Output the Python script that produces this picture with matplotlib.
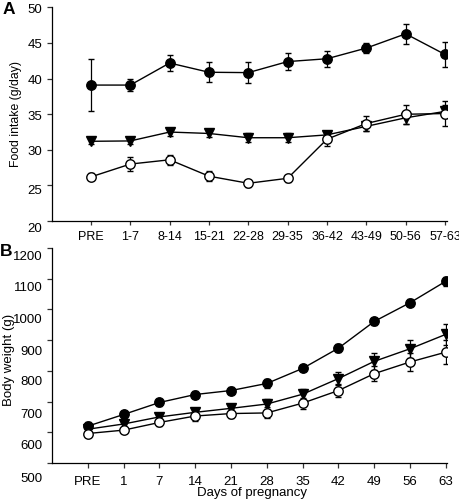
import numpy as np
import matplotlib
matplotlib.use("Agg")
import matplotlib.pyplot as plt
from matplotlib.transforms import ScaledTranslation

plt.rcParams['font.family'] = ['Liberation Sans', 'DejaVu Sans']

# panel A: food intake (g/day)
periodos = ["PRE", "1-7", "8-14", "15-21", "22-28", "29-35", "36-42", "43-49", "50-56", "57-63"]
food_cheio = [39.1, 39.1, 42.2, 40.9, 40.85, 42.4, 42.8, 44.3, 46.3, 43.4]
food_cheio_err = [3.7, 0.9, 1.15, 1.4, 1.5, 1.25, 1.1, 0.75, 1.4, 1.7]
food_tri = [31.2, 31.25, 32.5, 32.3, 31.7, 31.7, 32.1, 33.3, 34.5, 35.4]
food_tri_err = [0.4, 0.5, 0.6, 0.5, 0.6, 0.6, 0.5, 0.7, 0.8, 0.9]
food_aberto = [26.2, 28.0, 28.6, 26.3, 25.3, 26.0, 31.5, 33.7, 35.0, 35.1]
food_aberto_err = [0.5, 1.0, 0.7, 0.7, 0.5, 0.5, 1.0, 1.1, 1.3, 1.7]

# panel B: body weight (g)
dias = ["PRE", "1", "7", "14", "21", "28", "35", "42", "49", "56", "63"]
peso_cheio = [620, 658, 697, 723, 736, 759, 808, 874, 961, 1022, 1092]
peso_cheio_err = [12, 10, 10, 10, 12, 15, 10, 12, 12, 12, 15]
peso_tri = [610, 627, 650, 665, 678, 692, 724, 775, 831, 872, 919]
peso_tri_err = [10, 13, 13, 13, 11, 15, 18, 22, 28, 30, 34]
peso_aberto = [596, 607, 632, 653, 661, 663, 695, 736, 791, 829, 861]
peso_aberto_err = [12, 8, 12, 17, 15, 18, 18, 20, 25, 28, 40]

W, H = 460, 500
fig = plt.figure(figsize=(W / 100, H / 100), dpi=100)
axA = fig.add_axes([52 / W, 1 - 221 / H, 395 / W, 213.5 / H])
axB = fig.add_axes([52 / W, 1 - 463 / H, 395 / W, 215 / H])


def desenhar_series(ax, x, series):
    for y, err, marker, face in series:
        ax.errorbar(x, y, yerr=err, color='black', marker=marker, markersize=6.8,
                    markerfacecolor=face, markeredgecolor='black', markeredgewidth=1,
                    linewidth=1, elinewidth=0.9, capsize=2.3, capthick=0.9)


def estilo(ax):
    for s in ('top', 'right'):
        ax.spines[s].set_visible(False)
    ax.spines['left'].set_linewidth(0.9)
    ax.spines['bottom'].set_linewidth(0.9)
    ax.tick_params(axis='both', labelsize=9.5, width=0.9, length=3.5, color='#333333')


def deslocar_rotulos(ax, desloc_px):
    for lbl, d in zip(ax.get_yticklabels(), desloc_px):
        lbl.set_transform(lbl.get_transform() + ScaledTranslation(0, -d / 100, fig.dpi_scale_trans))


# A
xa = np.arange(len(periodos))
desenhar_series(axA, xa, [(food_cheio, food_cheio_err, 'o', 'black'),
                          (food_tri, food_tri_err, 'v', 'black'),
                          (food_aberto, food_aberto_err, 'o', 'white')])
estilo(axA)
axA.set_xlim(-0.99, 9.05)
axA.set_ylim(20, 50)
axA.set_yticks([20, 25, 30, 35, 40, 45, 50])
axA.set_xticks(xa)
axA.set_xticklabels(periodos)
axA.tick_params(axis='x', pad=4, length=3, labelsize=9)
axA.set_ylabel('Food intake (g/day)', fontsize=8.8)
axA.yaxis.set_label_coords((22 - 52) / 395, 0.5)
deslocar_rotulos(axA, [7, 4, 1, 1, 1, 0, 1])

# B
xb = np.arange(len(dias))
desenhar_series(axB, xb, [(peso_cheio, peso_cheio_err, 'o', 'black'),
                          (peso_tri, peso_tri_err, 'v', 'black'),
                          (peso_aberto, peso_aberto_err, 'o', 'white')])
estilo(axB)
axB.set_xlim(-1.0, 10.03)
axB.set_ylim(500, 1200)
axB.set_yticks(np.arange(500, 1201, 100))
axB.set_xticks(xb)
axB.set_xticklabels(dias)
axB.tick_params(axis='x', pad=6)
axB.set_ylabel('Body weight (g)', fontsize=9.5)
axB.yaxis.set_label_coords((15 - 52) / 395, 0.48)
axB.set_xlabel('Days of pregnancy', fontsize=9.5)
axB.xaxis.set_label_coords((252 - 52) / 395, -0.11)
deslocar_rotulos(axB, [15, 12, 12, 10, 10, 9, 8, 7])

fig.text(3 / W, 1 - 9 / H, 'A', fontsize=12.5, fontweight='bold', va='center', ha='left')
fig.text(0 / W, 1 - 252 / H, 'B', fontsize=12.5, fontweight='bold', va='center', ha='left')

fig.savefig('out.png', dpi=100)
